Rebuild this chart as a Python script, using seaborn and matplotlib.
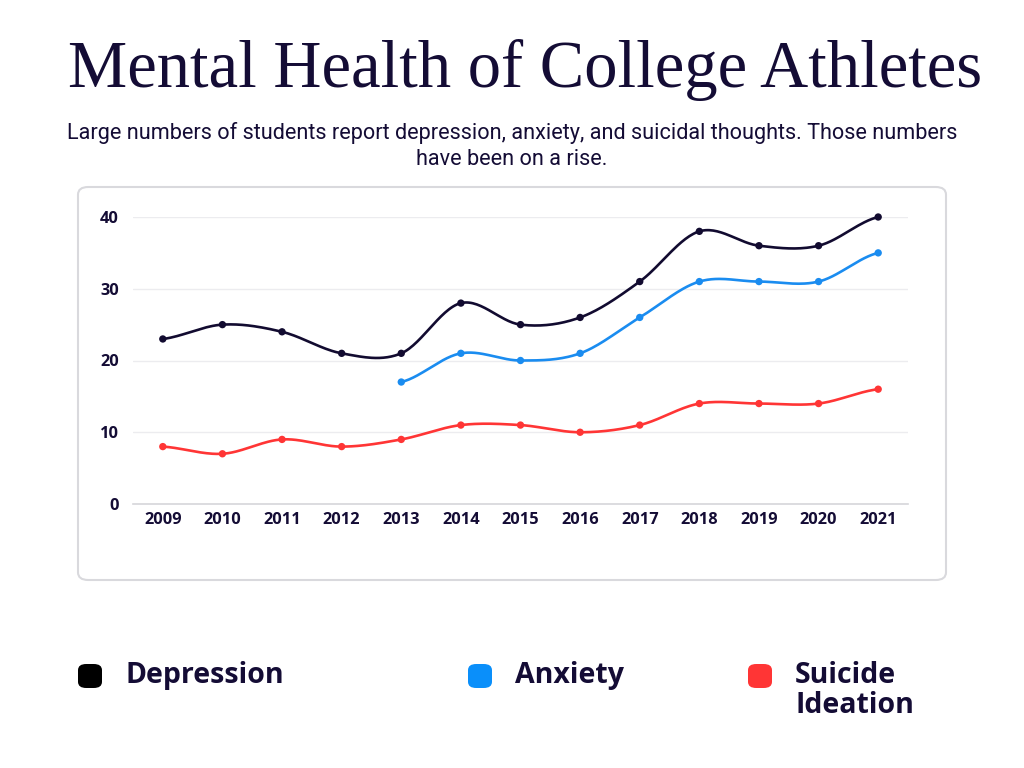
import numpy as np
import pandas as pd
import matplotlib
matplotlib.use("Agg")
import matplotlib.pyplot as plt
from matplotlib.patches import FancyBboxPatch
import seaborn as sns

years = [2009, 2010, 2011, 2012, 2013, 2014, 2015, 2016, 2017, 2018, 2019, 2020, 2021]
depression = [23, 25, 24, 21, 21, 28, 25, 26, 31, 38, 36, 36, 40]
anxiety_years = [2013, 2014, 2015, 2016, 2017, 2018, 2019, 2020, 2021]
anxiety = [17, 21, 20, 21, 26, 31, 31, 31, 35]
suicide = [8, 7, 9, 8, 9, 11, 11, 10, 11, 14, 14, 14, 16]
y_ticks = [0, 10, 20, 30, 40]

title = "Mental Health of College Athletes"
subtitle = ("Large numbers of students report depression, anxiety, and suicidal thoughts. Those numbers\n"
            "have been on a rise.")
series_names = ["Depression", "Anxiety", "Suicide\nIdeation"]
line_colors = ["#120b30", "#1a8cf0", "#ff3535"]
legend_colors = ["#000000", "#0a8ffa", "#ff3535"]
navy = "#140c35"


def smooth(xs, ys, n=30):
    """Catmull-Rom spline through the data points (drawing only)."""
    xs = np.asarray(xs, float)
    ys = np.asarray(ys, float)
    px = np.concatenate([[2 * xs[0] - xs[1]], xs, [2 * xs[-1] - xs[-2]]])
    py = np.concatenate([[ys[0]], ys, [ys[-1]]])
    out_x, out_y = [], []
    for i in range(1, len(px) - 2):
        t = np.linspace(0, 1, n, endpoint=False)
        for arr, out in ((px, out_x), (py, out_y)):
            p0, p1, p2, p3 = arr[i - 1], arr[i], arr[i + 1], arr[i + 2]
            out.extend(0.5 * ((2 * p1) + (-p0 + p2) * t +
                              (2 * p0 - 5 * p1 + 4 * p2 - p3) * t ** 2 +
                              (-p0 + 3 * p1 - 3 * p2 + p3) * t ** 3))
    out_x.append(xs[-1])
    out_y.append(ys[-1])
    return np.array(out_x), np.array(out_y)


sns.set_theme(style="white")
plt.rcParams["font.family"] = ["Open Sans", "DejaVu Sans"]

fig = plt.figure(figsize=(10.24, 7.68), dpi=100)
fig.patch.set_facecolor("white")

# card box (behind the axes)
card = FancyBboxPatch((78 / 1024, 1 - 580 / 768), (946 - 78) / 1024, (580 - 187) / 768,
                      boxstyle="round,pad=0,rounding_size=0.01", transform=fig.transFigure,
                      facecolor="white", edgecolor="#d9d9dd", linewidth=1.5, zorder=-5)
fig.patches.append(card)

ax = fig.add_axes([133 / 1024, 1 - 504 / 768, 775 / 1024, 287 / 768])
ax.set_facecolor("none")
ax.set_zorder(2)

frames = []
for name, xs, ys in [(series_names[0], years, depression),
                     (series_names[1], anxiety_years, anxiety),
                     (series_names[2], years, suicide)]:
    sx, sy = smooth(xs, ys)
    frames.append(pd.DataFrame({"year": sx, "value": sy, "series": name}))
dense = pd.concat(frames, ignore_index=True)
points = pd.concat([
    pd.DataFrame({"year": years, "value": depression, "series": series_names[0]}),
    pd.DataFrame({"year": anxiety_years, "value": anxiety, "series": series_names[1]}),
    pd.DataFrame({"year": years, "value": suicide, "series": series_names[2]}),
], ignore_index=True)

palette = dict(zip(series_names, line_colors))
sns.lineplot(data=dense, x="year", y="value", hue="series", palette=palette,
             linewidth=1.9, sort=False, estimator=None, legend=False, ax=ax, clip_on=False)
sns.scatterplot(data=points, x="year", y="value", hue="series", palette=palette,
                s=28, edgecolor="none", legend=False, ax=ax, zorder=5, clip_on=False)

ax.set_xlim(2008.5, 2021.5)
ax.set_ylim(0, 40)
ax.set_xticks(years)
ax.set_xticklabels([str(y) for y in years])
ax.set_yticks(y_ticks)
ax.set_xlabel("")
ax.set_ylabel("")
ax.tick_params(axis="both", length=0, labelsize=11.8, labelcolor=navy)
ax.tick_params(axis="x", pad=6)
ax.tick_params(axis="y", pad=10)
for lab in ax.get_xticklabels() + ax.get_yticklabels():
    lab.set_fontweight("bold")
ax.grid(axis="y", color="#ececef", linewidth=1)
ax.grid(axis="x", visible=False)
for side in ["top", "right", "left"]:
    ax.spines[side].set_visible(False)
ax.spines["bottom"].set_color("#d6d6da")
ax.spines["bottom"].set_linewidth(1.2)

# titles
fig.text(525 / 1024, 1 - 70 / 768, title, ha="center", va="center", fontsize=48,
         family=["Liberation Serif", "DejaVu Serif"], color=navy)
fig.text(512 / 1024, 1 - 146 / 768, subtitle, ha="center", va="center", fontsize=15.6,
         family=["Roboto", "DejaVu Sans"], color=navy, linespacing=1.3)

# legend
leg_x = [90, 480, 760]
text_x = [125, 515, 795]
for c, lx, tx, name in zip(legend_colors, leg_x, text_x, series_names):
    sq = FancyBboxPatch(((lx - 12) / 1024, 1 - 688 / 768), 24 / 1024, 24 / 768,
                        boxstyle="round,pad=0,rounding_size=0.008", transform=fig.transFigure,
                        facecolor=c, edgecolor="none")
    fig.patches.append(sq)
    fig.text(tx / 1024, 1 - 661 / 768, name, ha="left", va="top", fontsize=20.5,
             fontweight="bold", color=navy, linespacing=1.03)

fig.savefig("out.png", dpi=100, facecolor="white")
